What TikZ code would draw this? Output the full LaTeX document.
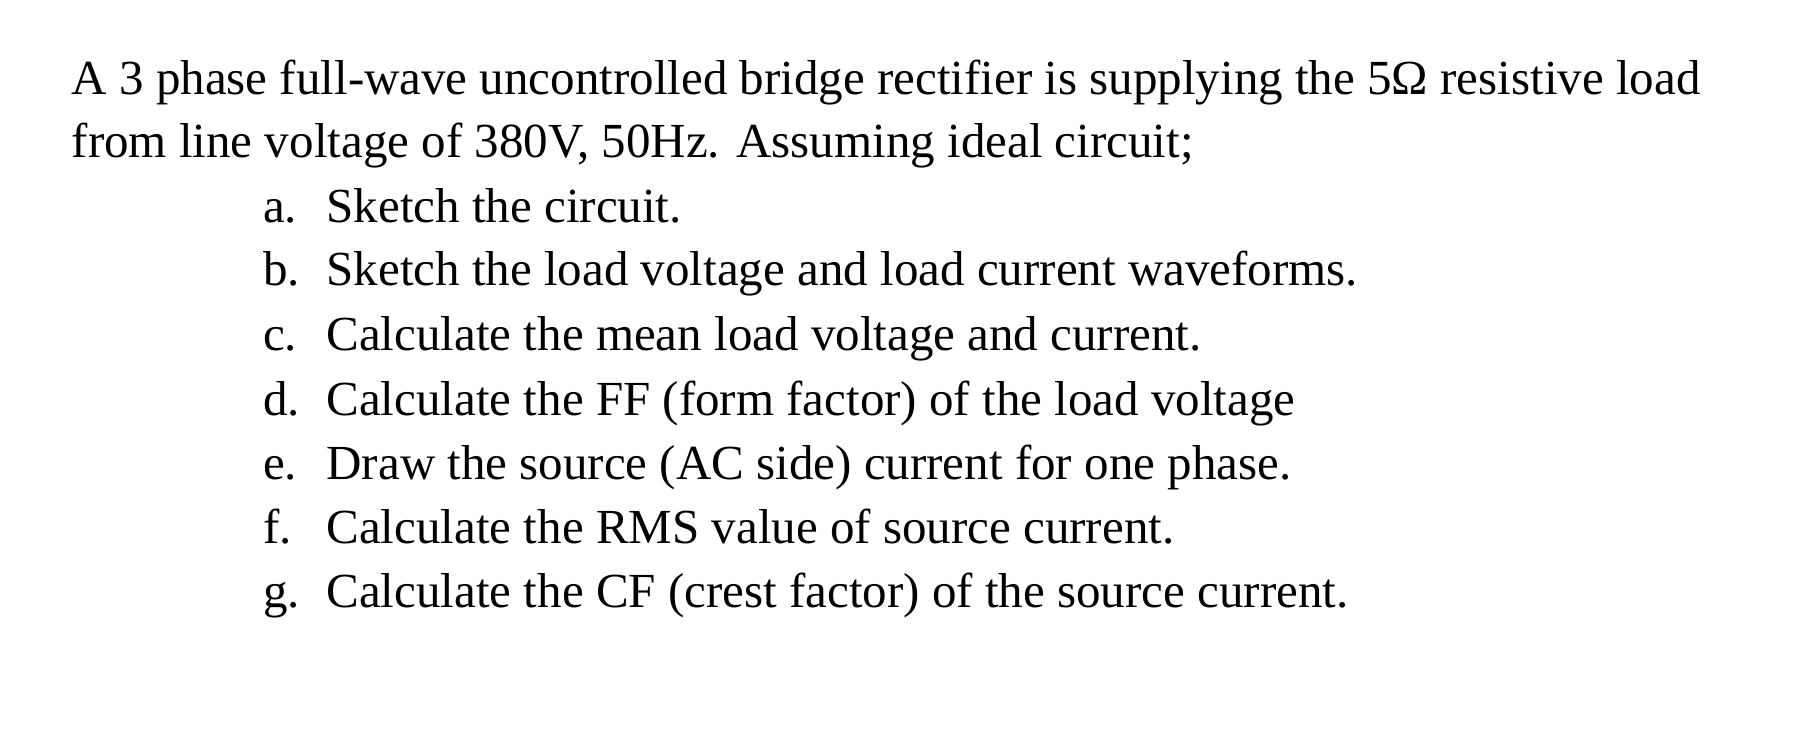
\documentclass[tikz,border=0pt]{standalone}
\usepackage{fontspec}
\setmainfont{Liberation Serif}
\begin{document}
\begin{tikzpicture}[x=1pt,y=1pt,txt/.style={anchor=base west,inner sep=0pt,font=\fontsize{42.5}{48}\selectfont}]
\useasboundingbox (0,0) rectangle (1568,-652);
\node[txt] (l1) at (62,-82) {A 3 phase full-wave uncontrolled bridge rectifier is supplying the 5Ω resistive load};
\node[txt] (l2) at (62,-137) {from line voltage of 380V, 50Hz. Assuming ideal circuit;};
\foreach \n/\l/\t/\y in {a/a./Sketch the circuit./193,
 b/b./Sketch the load voltage and load current waveforms./248,
 c/c./Calculate the mean load voltage and current./304,
 d/d./Calculate the FF (form factor) of the load voltage/360,
 e/e./Draw the source (AC side) current for one phase./416,
 f/f./Calculate the RMS value of source current./471,
 g/g./Calculate the CF (crest factor) of the source current./527}{
 \node[txt] (lab\n) at (228,-\y) {\l};
 \node[txt] (item\n) at (283,-\y) {\t};
}
\end{tikzpicture}
\end{document}
